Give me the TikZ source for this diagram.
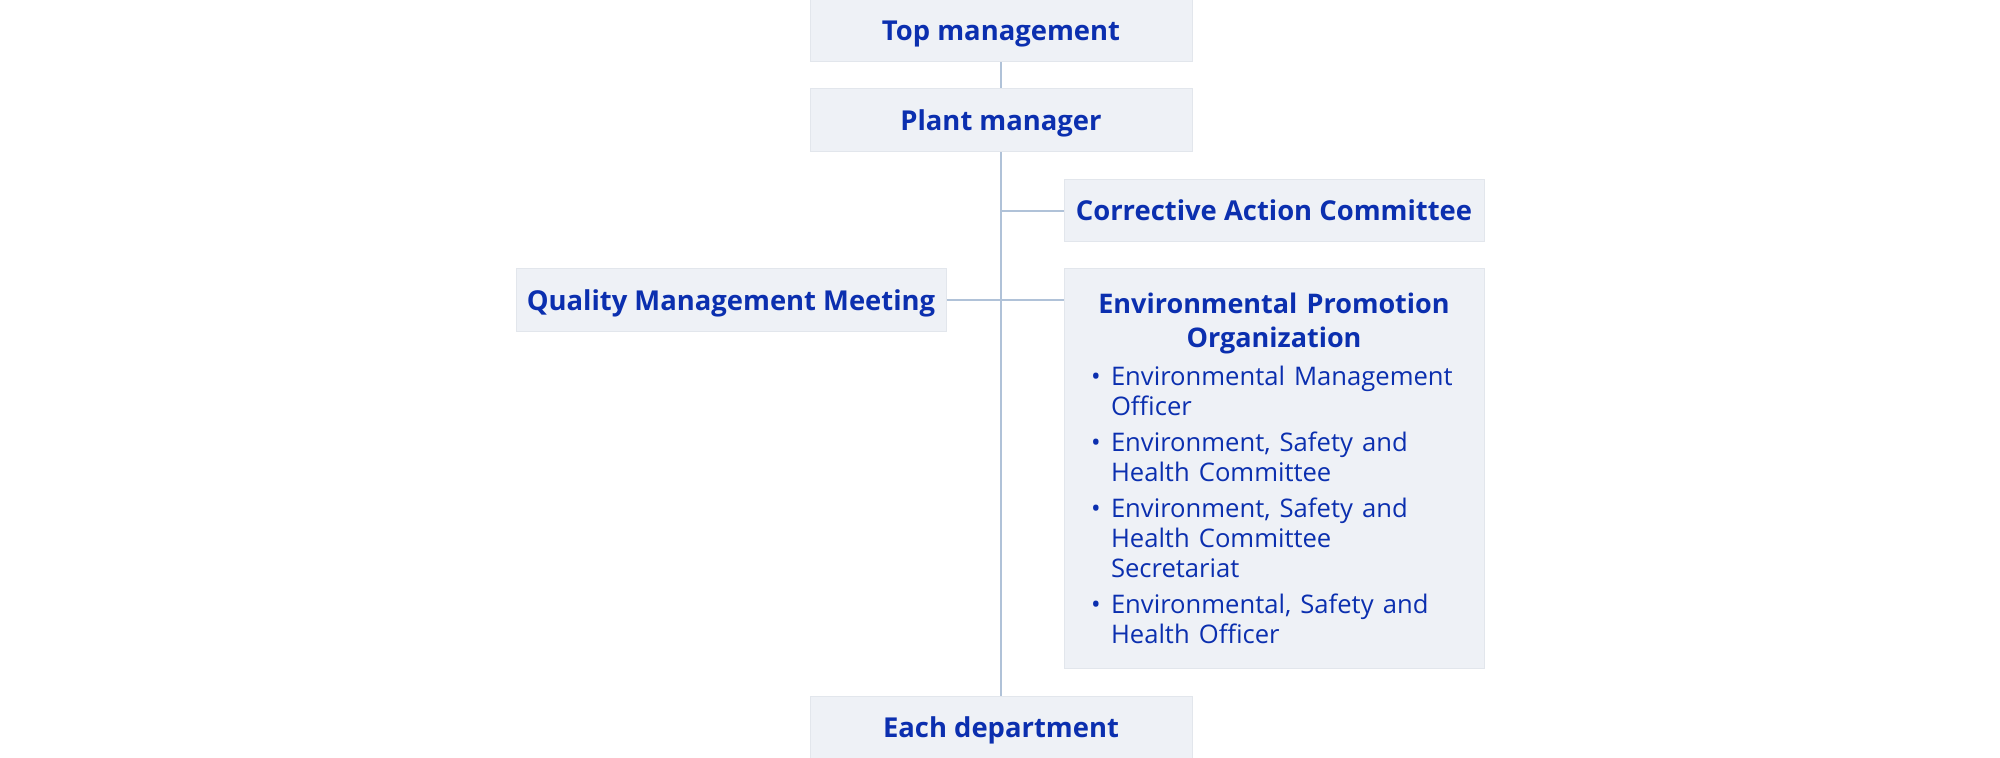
\documentclass[tikz,border=0pt]{standalone}
\usepackage{fontspec}
\setmainfont{Open Sans}
\usepackage{tikz}
\usetikzlibrary{positioning}

\definecolor{boxfill}{HTML}{EEF1F6}
\definecolor{boxline}{HTML}{E2E6EC}
\definecolor{orgblue}{HTML}{0B2FAF}
\definecolor{linkgray}{HTML}{B0C2D8}

\newcommand{\orgitem}[1]{\par\vspace{3pt}\hangindent=10pt\hangafter=1\noindent\makebox[10pt][l]{\textbullet}#1}

\begin{document}
\begin{tikzpicture}[x=0.5pt,y=-0.5pt]
			\tikzstyle{box} = [rectangle,fill=boxfill,draw=boxline,line width=0.5pt,text=orgblue,font=\fontsize{13.7}{17}\selectfont\bfseries,inner sep=0pt];
			\tikzstyle{title} = [text height=10pt,text depth=0pt];
			\tikzstyle{link} = [draw=linkgray,line width=1pt];
			\useasboundingbox (0,0) rectangle (2000,758);
			\node[box,title,minimum width=191pt,minimum height=31pt] (top) at (1001, 31) {Top management};
			\node[box,title,minimum width=191pt,minimum height=31.5pt] (plant) at (1001, 120.5) {Plant manager};
			\node[box,title,minimum width=210pt,minimum height=31pt] (corr) at (1274, 211) {Corrective Action Committee};
			\node[box,title,minimum width=215pt,minimum height=31.5pt] (qual) at (731, 300.5) {Quality Management Meeting};
			\node[box,minimum width=210pt,minimum height=199.5pt,text width=188pt,align=left] (env) at (1274, 468.5) {%
				{\centering\fontsize{13.5}{17}\selectfont\bfseries Environmental Promotion\\Organization\par}
				\vspace{1pt}\fontsize{12.8}{15}\selectfont\mdseries\leftskip=2.5pt\hyphenpenalty=10000
				\orgitem{Environmental Management\newline Officer}
				\orgitem{Environment, Safety and\newline Health Committee}
				\orgitem{Environment, Safety and\newline Health Committee\newline Secretariat}
				\orgitem{Environmental, Safety and\newline Health Officer}\par};
			\node[box,title,minimum width=191pt,minimum height=31pt] (dept) at (1001, 727) {Each department};
			\coordinate (j1) at (plant.south |- corr.west);
			\coordinate (j2) at (plant.south |- qual.east);
			\draw[link] (top) -- (plant);
			\draw[link] (plant) -- (dept);
			\draw[link] (j1) -- (corr);
			\draw[link] (qual) -- (j2) -- (env.west |- qual.east);
		\end{tikzpicture}
\end{document}
